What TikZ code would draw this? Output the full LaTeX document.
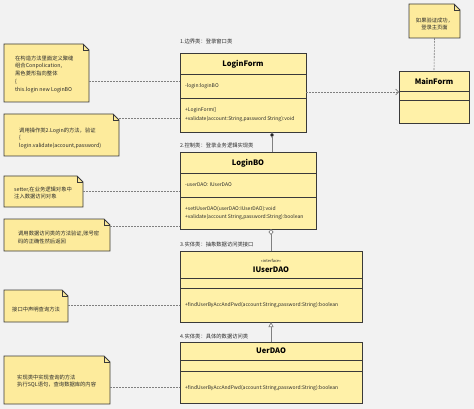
\documentclass[tikz,border=0pt]{standalone}
\usepackage{fontspec}
\setmainfont{Noto Sans CJK SC}
\usetikzlibrary{arrows.meta,backgrounds}
\definecolor{bgc}{HTML}{F2F2F2}
\definecolor{clsfill}{HTML}{FFF1A8}
\definecolor{notefill}{HTML}{FDEB9C}
\definecolor{edgec}{HTML}{3A3A3A}
\definecolor{txtc}{HTML}{2A2A2A}
\definecolor{conn}{HTML}{808080}
\newcommand\notepath[1]{%
  \filldraw[noteshape] (#1.north west) -- ([xshift=-6pt]#1.north east) -- ([yshift=-6pt]#1.north east) -- (#1.south east) -- (#1.south west) -- cycle;
  \draw[noteshape, fill=none] ([xshift=-6pt]#1.north east) -- ([xshift=-6pt,yshift=-6pt]#1.north east) -- ([yshift=-6pt]#1.north east);}
\begin{document}
\begin{tikzpicture}[x=1pt,y=-1pt,
 cls/.style={draw=edgec, fill=clsfill, line width=0.8pt, anchor=north west, inner sep=0pt, outer sep=0pt},
 notebg/.style={anchor=north west, inner sep=0pt, outer sep=0pt},
 noteshape/.style={draw=edgec, fill=notefill, line width=0.8pt},
 ttl/.style={font=\fontsize{7.5}{9}\selectfont\bfseries, text=black, inner sep=0pt},
 stereo/.style={font=\fontsize{4}{5}\selectfont, text=txtc, inner sep=0pt},
 mem/.style={font=\fontsize{5}{6.5}\selectfont, anchor=west, text=txtc, inner sep=0pt},
 lbl/.style={font=\fontsize{5.3}{6.5}\selectfont, anchor=west, text=txtc, inner sep=0pt},
 ntext/.style={font=\fontsize{5.3}{7.8}\selectfont, align=left, anchor=north west, inner sep=0pt, text=txtc},
 dline/.style={draw=conn, dash pattern=on 2pt off 1pt, line width=0.6pt},
 sline/.style={draw=conn, line width=0.7pt},
 sect/.style={draw=edgec, line width=0.8pt}]

\begin{scope}[on background layer]
\fill[bgc] (0,0) rectangle (474,409);
\end{scope}
\useasboundingbox (0,0) rectangle (474,409);

% ---------- classes ----------
\node[cls, minimum width=126pt, minimum height=79pt] (lf) at (180,53) {};
\draw[sect] (lf.west |- 0,74) -- (lf.east |- 0,74);
\draw[sect] (lf.west |- 0,98) -- (lf.east |- 0,98);
\node[ttl] (lft) at (243,64) {LoginForm};
\node[mem] (lfa) at (185,86) {-login:loginBO};
\node[mem] (lfm1) at (185,110) {+LoginForm()};
\node[mem] (lfm2) at (185,119) {+validate(account:String,password String):void};
\node[lbl] (l1) at (180,41) {1.边界类：登录窗口类};

\node[cls, minimum width=70pt, minimum height=52pt] (mf) at (399,71) {};
\draw[sect] (mf.west |- 0,91) -- (mf.east |- 0,91);
\draw[sect] (mf.west |- 0,100) -- (mf.east |- 0,100);
\node[ttl] (mft) at (434,81) {MainForm};

\node[cls, minimum width=136pt, minimum height=77pt] (lbo) at (180,152) {};
\draw[sect] (lbo.west |- 0,173) -- (lbo.east |- 0,173);
\draw[sect] (lbo.west |- 0,197) -- (lbo.east |- 0,197);
\node[ttl] (lbot) at (248,163) {LoginBO};
\node[mem] (lboa) at (185,185) {-userDAO: IUserDAO};
\node[mem] (lbom1) at (185,209) {+setIUserDAO(userDAO:IUserDAO):void};
\node[mem] (lbom2) at (185,217) {+validate(account String,password:String):boolean};
\node[lbl] (l2) at (180,145) {2.控制类：登录业务逻辑实现类};

\node[cls, minimum width=182pt, minimum height=71pt] (iu) at (180,251) {};
\draw[sect] (iu.west |- 0,278) -- (iu.east |- 0,278);
\draw[sect] (iu.west |- 0,288) -- (iu.east |- 0,288);
\node[stereo] (ius) at (271,261) {«interface»};
\node[ttl] (iut) at (271,270) {IUserDAO};
\node[mem] (ium) at (185,305) {+findUserByAccAndPwd(account:String,password:String):boolean};
\node[lbl] (l3) at (180,244) {3.实体类：抽象数据访问类接口};

\node[cls, minimum width=182pt, minimum height=61pt] (ud) at (180,342) {};
\draw[sect] (ud.west |- 0,360) -- (ud.east |- 0,360);
\draw[sect] (ud.west |- 0,371) -- (ud.east |- 0,371);
\node[ttl] (udt) at (271,351) {UerDAO};
\node[mem] (udm) at (185,388) {+findUserByAccAndPwd(account:String,password:String):boolean};
\node[lbl] (l4) at (180,336) {4.实体类：具体的数据访问类};

% ---------- notes ----------
\node[notebg, minimum width=85pt, minimum height=58pt] (n1) at (4,44) {};
\node[ntext] (n1t) at (15,55.5) {在构造方法里面定义聚缝\\组合Conpolication,\\黑色菱形指向整体\\\{\\this.login new LoginBO};

\node[notebg, minimum width=115pt, minimum height=42pt] (n2) at (4,114) {};
\node[ntext] (n2t) at (19,127.5) {调用操作类2.Login的方法，验证\\\{\\login.validate(account,password)};

\node[notebg, minimum width=79pt, minimum height=31pt] (n3) at (4,176) {};
\node[ntext] (n3t) at (14,186.5) {setter,在业务逻辑对象中\\注入数据访问对象};

\node[notebg, minimum width=106pt, minimum height=32pt] (n4) at (4,219) {};
\node[ntext] (n4t) at (18,230.5) {调用数据访问类的方法验证,账号密\\码的正确性然后返回};

\node[notebg, minimum width=64pt, minimum height=32pt] (n5) at (4,290) {};
\node[ntext, anchor=west] (n5t) at (12,309) {接口中声明查询方法};

\node[notebg, minimum width=106pt, minimum height=48pt] (n6) at (4,356) {};
\node[ntext] (n6t) at (17,374.5) {实现类中实现查询的方法\\执行SQL语句，查询数据库的内容};

\node[notebg, minimum width=51pt, minimum height=34pt] (n7) at (409,4) {};
\node[ntext, align=center, anchor=center] (n7t) at (434.5,24) {如果验证成功，\\登录主页面};

\begin{scope}[on background layer]
\notepath{n1}\notepath{n2}\notepath{n3}\notepath{n4}\notepath{n5}\notepath{n6}\notepath{n7}
\end{scope}

% ---------- connectors ----------
\draw[dline] (n1.east |- 0,81) -- (lf.west |- 0,81);
\draw[dline] (n2.east |- 0,118) -- (lf.west |- 0,118);
\draw[dline] (n3.east |- 0,191) -- (lbo.west |- 0,191);
\draw[dline] (n4.east |- 0,226) -- (lbo.west |- 0,226);
\draw[dline] (n5.east |- 0,305) -- (iu.west |- 0,305);
\draw[dline] (n6.east |- 0,387) -- (ud.west |- 0,387);
\draw[dline] (n7.south) -- (mf.north);
\draw[dline, -{Straight Barb[length=3pt,width=6pt]}] (lf.east |- 0,92) -- (mf.west |- 0,92);

\draw[sline, -{Diamond[length=6pt,width=4pt,fill=black]}] (lbo.north -| 272,0) -- (lf.south -| 272,0);
\draw[sline, -{Diamond[open,length=6pt,width=5pt,fill=white]}] (iu.north -| 271,0) -- (lbo.south -| 271,0);
\draw[sline, -{Triangle[open,length=5pt,width=5pt,fill=white]}] (ud.north -| 271,0) -- (iu.south -| 271,0);
\end{tikzpicture}
\end{document}
